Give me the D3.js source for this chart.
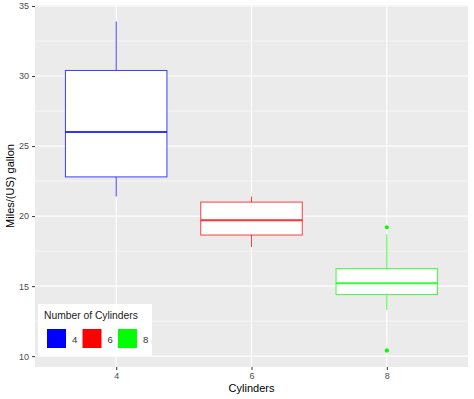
<!DOCTYPE html>
<html>
<head>
<meta charset="utf-8">
<script src="https://cdn.jsdelivr.net/npm/d3@7"></script>
<style>
  body { margin: 0; background: #fff; }
  text { font-family: "Liberation Sans", Arial, sans-serif; }
</style>
</head>
<body>
<svg id="chart"></svg>
<script>
// Chart size
const width = 474;
const height = 399;

// Box statistics per cylinder group
const cylinders = ["4", "6", "8"];
const whiskerLow = [21.4, 17.8, 13.3];
const q1 = [22.8, 18.65, 14.4];
const median = [26.0, 19.7, 15.2];
const q3 = [30.4, 21.0, 16.25];
const whiskerHigh = [33.9, 21.4, 18.7];
const outliers = [[], [], [19.2, 10.4, 10.4]];
const colors = ["#0000FF", "#FF0000", "#00FF00"];
const yTicks = [10, 15, 20, 25, 30, 35];
const yMinor = [12.5, 17.5, 22.5, 27.5, 32.5];

const panel = { left: 35, right: 468, top: 5, bottom: 367 };

const svg = d3.select("#chart")
    .attr("width", width)
    .attr("height", height);

const boxes = cylinders.map((c, i) => ({
    cyl: c, lo: whiskerLow[i], q1: q1[i], med: median[i], q3: q3[i],
    hi: whiskerHigh[i], out: outliers[i], color: colors[i]
}));

// Scales (ggplot-style expansion: 5% continuous, 0.6 units discrete)
const y = d3.scaleLinear()
    .domain([10.4 - 1.175, 33.9 + 1.175])
    .range([panel.bottom, panel.top]);

const unit = (panel.right - panel.left) / 3.2;
const xc = d3.scalePoint()
    .domain(cylinders)
    .range([panel.left + unit * 0.6, panel.right - unit * 0.6]);
const boxW = unit * 0.75;

// Panel background
svg.append("rect")
    .attr("x", panel.left).attr("y", panel.top)
    .attr("width", panel.right - panel.left)
    .attr("height", panel.bottom - panel.top)
    .attr("fill", "#EBEBEB");

// Minor grid
svg.selectAll(".minor").data(yMinor).enter().append("line")
    .attr("x1", panel.left).attr("x2", panel.right)
    .attr("y1", d => y(d)).attr("y2", d => y(d))
    .attr("stroke", "#fff").attr("stroke-width", 0.6);

// Major grid
svg.selectAll(".majorY").data(yTicks).enter().append("line")
    .attr("x1", panel.left).attr("x2", panel.right)
    .attr("y1", d => y(d)).attr("y2", d => y(d))
    .attr("stroke", "#fff").attr("stroke-width", 1.1);

svg.selectAll(".majorX").data(cylinders).enter().append("line")
    .attr("x1", d => xc(d)).attr("x2", d => xc(d))
    .attr("y1", panel.top).attr("y2", panel.bottom)
    .attr("stroke", "#fff").attr("stroke-width", 1.1);

// Boxplots
const g = svg.selectAll(".box").data(boxes).enter().append("g");

g.append("line")
    .attr("x1", d => xc(d.cyl)).attr("x2", d => xc(d.cyl))
    .attr("y1", d => y(d.hi)).attr("y2", d => y(d.q3))
    .attr("stroke", d => d.color).attr("stroke-opacity", 0.75);

g.append("line")
    .attr("x1", d => xc(d.cyl)).attr("x2", d => xc(d.cyl))
    .attr("y1", d => y(d.q1)).attr("y2", d => y(d.lo))
    .attr("stroke", d => d.color).attr("stroke-opacity", 0.75);

g.append("rect")
    .attr("x", d => xc(d.cyl) - boxW / 2)
    .attr("width", boxW)
    .attr("y", d => y(d.q3))
    .attr("height", d => y(d.q1) - y(d.q3))
    .attr("fill", "#fff")
    .attr("stroke", d => d.color).attr("stroke-opacity", 0.75);

g.append("line")
    .attr("x1", d => xc(d.cyl) - boxW / 2).attr("x2", d => xc(d.cyl) + boxW / 2)
    .attr("y1", d => y(d.med)).attr("y2", d => y(d.med))
    .attr("stroke", d => d.color).attr("stroke-opacity", 0.8)
    .attr("stroke-width", 2);

g.selectAll(".out").data(d => d.out.map(v => ({ v, cyl: d.cyl, color: d.color })))
    .enter().append("circle")
    .attr("cx", d => xc(d.cyl)).attr("cy", d => y(d.v))
    .attr("r", 2).attr("fill", d => d.color);

// Axes
const yAxis = svg.append("g")
    .attr("transform", `translate(${panel.left},0)`)
    .call(d3.axisLeft(y).tickValues(yTicks).tickSize(3).tickPadding(3));
const xAxis = svg.append("g")
    .attr("transform", `translate(0,${panel.bottom})`)
    .call(d3.axisBottom(xc).tickSize(3).tickPadding(3));

[yAxis, xAxis].forEach(a => {
    a.select(".domain").remove();
    a.selectAll(".tick line").attr("stroke", "#333");
    a.selectAll(".tick text").attr("fill", "#4D4D4D")
        .style("font-size", "9px")
        .style("font-family", "'Liberation Sans', Arial, sans-serif");
});

// Axis titles
svg.append("text")
    .attr("x", (panel.left + panel.right) / 2).attr("y", 392)
    .attr("text-anchor", "middle")
    .style("font-size", "11px")
    .text("Cylinders");

svg.append("text")
    .attr("transform", `translate(14,${(panel.top + panel.bottom) / 2}) rotate(-90)`)
    .attr("text-anchor", "middle")
    .style("font-size", "11px")
    .text("Miles/(US) gallon");

// Legend
const legend = svg.append("g").attr("transform", "translate(38,304)");
legend.append("rect")
    .attr("width", 114).attr("height", 52).attr("fill", "#fff");
legend.append("text")
    .attr("x", 6).attr("y", 15)
    .style("font-size", "10.3px")
    .attr("fill", "#1a1a1a")
    .text("Number of Cylinders");

const keys = legend.selectAll(".key").data(boxes).enter().append("g")
    .attr("transform", (d, i) => `translate(${9 + i * 35.5},25)`);
keys.append("rect")
    .attr("width", 19).attr("height", 19)
    .attr("fill", d => d.color);
keys.append("text")
    .attr("x", 25).attr("y", 13.5)
    .style("font-size", "9.5px")
    .attr("fill", "#333")
    .text(d => d.cyl);
</script>
</body>
</html>
